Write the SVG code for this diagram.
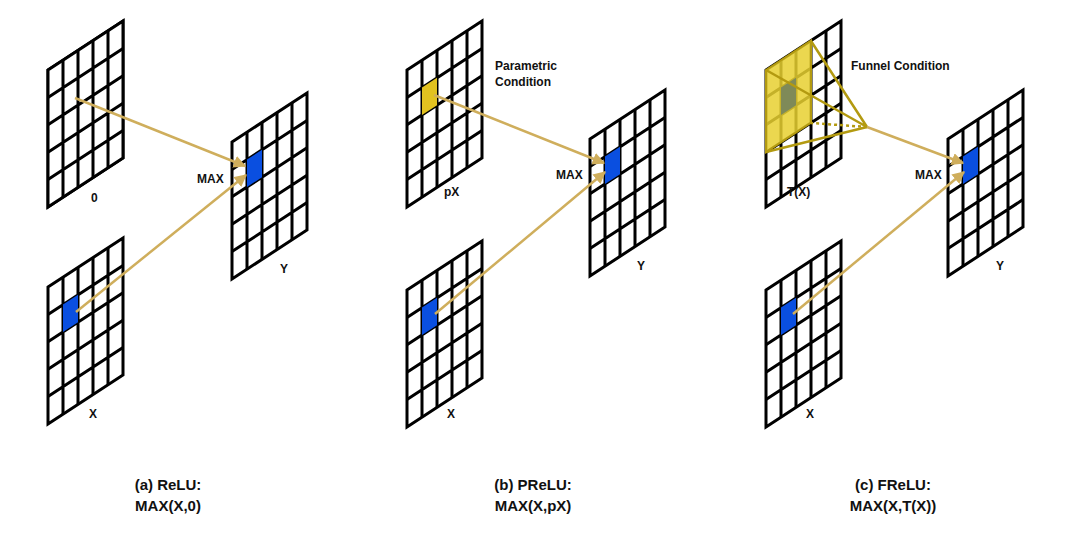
<svg xmlns="http://www.w3.org/2000/svg" width="1075" height="533" viewBox="0 0 1075 533">
<style>
text{font-family:"Liberation Sans",Arial,sans-serif;font-weight:bold;fill:#111}
.lbl{font-size:12px}
.cap{font-size:15px;text-anchor:middle}
.g{fill:#fff;stroke:#000;stroke-width:3;vector-effect:non-scaling-stroke}
.l{stroke:#000;stroke-width:3;vector-effect:non-scaling-stroke;fill:none}
.arr{stroke:#cfae5c;stroke-width:2.5;fill:none;marker-end:url(#ah)}
.fun{stroke:#b39a10;stroke-width:2.5;fill:none}
</style>
<defs>
<marker id="ah" viewBox="0 0 10 10" refX="9" refY="5" markerWidth="5" markerHeight="5" orient="auto"><path d="M0,0L10,5L0,10z" fill="#cfae5c"/></marker>
<g id="grid">
<rect class="g" x="0" y="0" width="5" height="5"/>
<path class="l" d="M1,0V5M2,0V5M3,0V5M4,0V5M0,1H5M0,2H5M0,3H5M0,4H5"/>
</g>
</defs>
<g id="a-zero"><g transform="matrix(15,-9.8,0,27.4,48,70)"><use href="#grid"/><rect x="1" y="1" width="1" height="1" fill="#0a4fe0"/><use href="#grid" fill="none"/></g></g>
<g id="a-x"><g transform="matrix(15,-9.8,0,27.4,48,287)"><use href="#grid"/><rect x="1" y="1" width="1" height="1" fill="#0a4fe0"/></g></g>
<g id="a-y"><g transform="matrix(15,-9.8,0,27.4,232,142)"><use href="#grid"/><rect x="1" y="1" width="1" height="1" fill="#0a4fe0"/></g></g>
<g id="b-px"><g transform="matrix(15,-9.8,0,27.4,407,70)"><use href="#grid"/><rect x="1" y="1" width="1" height="1" fill="#e2c220"/></g></g>
<g id="b-x"><g transform="matrix(15,-9.8,0,27.4,407,290)"><use href="#grid"/><rect x="1" y="1" width="1" height="1" fill="#0a4fe0"/></g></g>
<g id="b-y"><g transform="matrix(15,-9.8,0,27.4,590,139)"><use href="#grid"/><rect x="1" y="1" width="1" height="1" fill="#0a4fe0"/></g></g>
<g id="c-tx"><g transform="matrix(15,-9.8,0,27.4,766,70)"><use href="#grid"/><rect x="0" y="0" width="3" height="3" fill="#e8d030" fill-opacity="0.85"/><rect x="1" y="1" width="1" height="1" fill="#7f8a58"/><path d="M0,0H3V3H0z" fill="none" stroke="#b39a10" stroke-width="2" vector-effect="non-scaling-stroke"/></g></g>
<g id="c-x"><g transform="matrix(15,-9.8,0,27.4,766,290)"><use href="#grid"/><rect x="1" y="1" width="1" height="1" fill="#0a4fe0"/></g></g>
<g id="c-y"><g transform="matrix(15,-9.8,0,27.4,948,139)"><use href="#grid"/><rect x="1" y="1" width="1" height="1" fill="#0a4fe0"/></g></g>
<g id="funnel">
<path class="fun" d="M867,127L766,70M867,127L811,41M867,127L766,152"/>
<path class="fun" d="M867,127L811,123" stroke-dasharray="3,3"/>
</g>
<g id="connectors">
<path class="arr" d="M75,98L245,166"/>
<path class="arr" d="M76,312L246,175"/>
<path class="arr" d="M434,95L604,163"/>
<path class="arr" d="M435,314L605,172"/>
<path class="arr" d="M867,127L963,163"/>
<path class="arr" d="M793,314L964,172"/>
</g>
<g id="labels">
<text class="lbl" x="91" y="202">0</text>
<text class="lbl" x="89" y="418">X</text>
<text class="lbl" x="280" y="273">Y</text>
<text class="lbl" x="197" y="183">MAX</text>
<text class="lbl" x="444" y="196">pX</text>
<text class="lbl" x="447" y="418">X</text>
<text class="lbl" x="637" y="270">Y</text>
<text class="lbl" x="556" y="179">MAX</text>
<text class="lbl" x="495" y="70">Parametric</text>
<text class="lbl" x="495" y="86">Condition</text>
<text class="lbl" x="787" y="196">T(X)</text>
<text class="lbl" x="806" y="418">X</text>
<text class="lbl" x="996" y="270">Y</text>
<text class="lbl" x="915" y="179">MAX</text>
<text class="lbl" x="851" y="70">Funnel Condition</text>
<text class="cap" x="168" y="490">(a) ReLU:</text>
<text class="cap" x="168" y="511">MAX(X,0)</text>
<text class="cap" x="533" y="490">(b) PReLU:</text>
<text class="cap" x="533" y="511">MAX(X,pX)</text>
<text class="cap" x="893" y="490">(c) FReLU:</text>
<text class="cap" x="893" y="511">MAX(X,T(X))</text>
</g>
</svg>
